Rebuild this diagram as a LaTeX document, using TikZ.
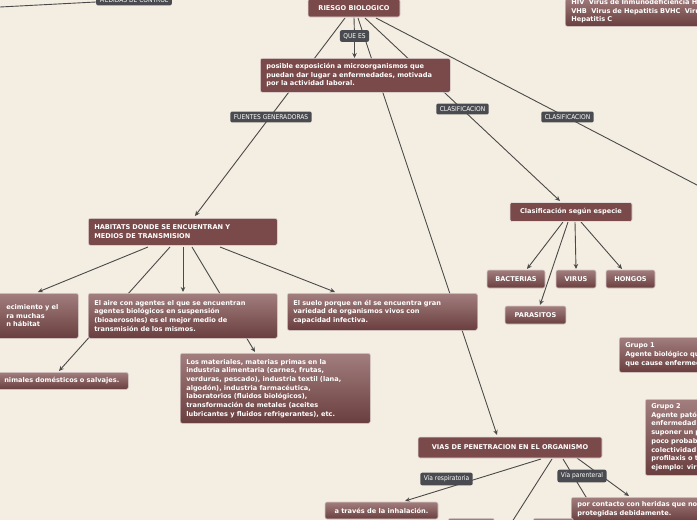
\documentclass[tikz,border=0pt]{standalone}
\usepackage{fontspec}
\setmainfont{DejaVu Sans}
\newfontfamily\condf{DejaVu Sans Condensed}
\usetikzlibrary{backgrounds,arrows.meta}
\definecolor{bg}{HTML}{F4EEE2}
\definecolor{br}{HTML}{7A4A4A}
\definecolor{brl}{HTML}{A27E7E}
\definecolor{brd}{HTML}{6A3E3E}
\definecolor{lab}{HTML}{4A4B50}
\definecolor{ln}{HTML}{4A4A4A}
\tikzset{
 main/.style={anchor=north west,fill=br,draw=white!80!br,line width=0.6pt,rounded corners=2pt,text=white,font=\bfseries\fontsize{6.6}{8.7}\selectfont,inner xsep=6pt,inner ysep=4pt,align=left},
 sub/.style={main,fill=none,top color=brl,bottom color=brd,draw=white!70!br},
 lbl/.style={fill=lab,rounded corners=2pt,text=white,font=\condf\fontsize{6.6}{7.5}\selectfont,inner xsep=3.5pt,inner ysep=3pt},
 con/.style={draw=ln,line width=0.9pt},
 arr/.style={con,-{Stealth[length=5pt,width=4.5pt]}}
}
\begin{document}
\begin{tikzpicture}[x=1pt,y=-1pt]
\useasboundingbox (0,0) rectangle (697,520);
\clip (0,0) rectangle (697,520);
% nodes
\node[main,anchor=center,minimum width=92pt,minimum height=18pt] (rb) at (354,8) {RIESGO BIOLOGICO};
\node[sub,text width=170pt,minimum height=30pt,inner ysep=1pt] (hiv) at (565,-4) {HIV\ \ Virus de Inmunodeficiencia Humana\\VHB\ \ Virus de Hepatitis BVHC\ \ Virus de\\Hepatitis C};
\node[main,text width=178pt,minimum height=34pt] (pos) at (260,58) {posible exposición a microorganismos que\\puedan dar lugar a enfermedades, motivada\\por la actividad laboral.};
\node[main,text width=177pt,minimum height=27pt] (hab) at (88,218) {HABITATS DONDE SE ENCUENTRAN Y\\MEDIOS DE TRANSMISION};
\node[sub,text width=166pt,minimum height=45pt] (agua) at (-100,293) {\hspace*{100pt}ecimiento y el\\\hspace*{100pt}ra muchas\\\hspace*{100pt}n hábitat};
\node[sub,text width=177pt,minimum height=45pt] (aire) at (88,293) {El aire con agentes el que se encuentran\\agentes biológicos en suspensión\\(bioaerosoles) es el mejor medio de\\transmisión de los mismos.};
\node[sub,text width=178pt,minimum height=37pt] (suelo) at (287,293) {El suelo porque en él se encuentra gran\\variedad de organismos vivos con\\capacidad infectiva.};
\node[sub,text width=156pt,minimum height=17pt,inner ysep=3pt] (anim) at (-40,372) {\hspace*{38pt}nimales domésticos o salvajes.};
\node[sub,text width=178pt,minimum height=70pt] (mat) at (180,353) {Los materiales, materias primas en la\\industria alimentaria (carnes, frutas,\\verduras, pescado), industria textil (lana,\\algodón), industria farmacéutica,\\laboratorios (fluidos biológicos),\\transformación de metales (aceites\\lubricantes y fluidos refrigerantes), etc.};
\node[main,anchor=center,minimum width=122pt,minimum height=19pt] (cle) at (571,212) {Clasificación según especie};
\node[sub,anchor=center,minimum width=58pt,minimum height=18pt] (bac) at (516,279) {BACTERIAS};
\node[sub,anchor=center,minimum width=40pt,minimum height=18pt] (vir) at (576,279) {VIRUS};
\node[sub,anchor=center,minimum width=49pt,minimum height=18pt] (hon) at (630.5,279) {HONGOS};
\node[sub,anchor=center,minimum width=61pt,minimum height=18pt] (par) at (535.5,315) {PARASITOS};
\node[sub,text width=120pt,minimum height=35pt,inner ysep=3pt] (g1) at (619,337) {Grupo 1\\Agente biológico que no\\que cause enfermedad};
\node[sub,text width=100pt,minimum height=76pt,inner ysep=3pt] (g2) at (645,399) {Grupo 2\\Agente patógeno\\enfermedad en el\\suponer un peligro\\poco probable que\\colectividad\\profilaxis o trat\\ejemplo: virus};
\node[main,anchor=center,minimum width=184pt,minimum height=21pt] (vias) at (510,447.5) {VIAS DE PENETRACION EN EL ORGANISMO};
\node[sub,anchor=center,minimum width=113pt,minimum height=17pt,inner ysep=2pt] (inh) at (381.5,510.5) {a través de la inhalación.};
\node[sub,text width=170pt,minimum height=24pt,inner ysep=3pt] (cont) at (571,497) {por contacto con heridas que no estén\\protegidas debidamente.};
\node[sub,minimum width=46pt,minimum height=20pt] (b1) at (448,518) {};
\node[sub,minimum width=40pt,minimum height=20pt] (b2) at (533,518) {};
% labels
\node[lbl] (med) at (134,0) {MEDIDAS DE CONTROL};
\node[lbl] (que) at (354.5,36) {QUE ES};
\node[lbl] (fue) at (271,117) {FUENTES GENERADORAS};
\node[lbl] (cl1) at (462.5,109) {CLASIFICACION};
\node[lbl] (cl2) at (567.5,117) {CLASIFICACION};
\node[lbl] (vr) at (446.5,479) {Vía respiratoria};
\node[lbl] (vp) at (582,476) {Vía parenteral};
\coordinate (offr) at (720,197);
\coordinate (offl) at (0,7);
\coordinate (offm) at (215,-2);
\coordinate (d1) at (510,525);
\coordinate (d2) at (603,525);
\begin{scope}[on background layer]
\fill[bg] (0,0) rectangle (697,520);
\draw[con] (offl) -- (med) -- (offm);
\draw[con] (rb.south) -- (que); \draw[arr] (que) -- (pos.north -| que);
\draw[arr] (345,18) -- (195,216);
\draw[arr] (358,18) -- (497,435);
\draw[arr] (365,18) -- (560,201);
\draw[con] (376,18) -- (offr);
\draw[arr] (148,247) -- (38,292);
\draw[arr] (170,247) -- (59,371);
\draw[arr] (183,247) -- (183,292);
\draw[arr] (192,247) -- (255,352);
\draw[arr] (220,247) -- (335,292);
\draw[arr] (563,222) -- (527,269);
\draw[arr] (568,222) -- (540,305);
\draw[arr] (575,222) -- (576,269);
\draw[arr] (581,222) -- (622,269);
\draw[arr] (541,459) -- (405,501);
\draw[con] (552,459) -- (d1);
\draw[con] (563,459) -- (d2);
\draw[arr] (577,458) -- (629,496);
\end{scope}
\end{tikzpicture}
\end{document}
